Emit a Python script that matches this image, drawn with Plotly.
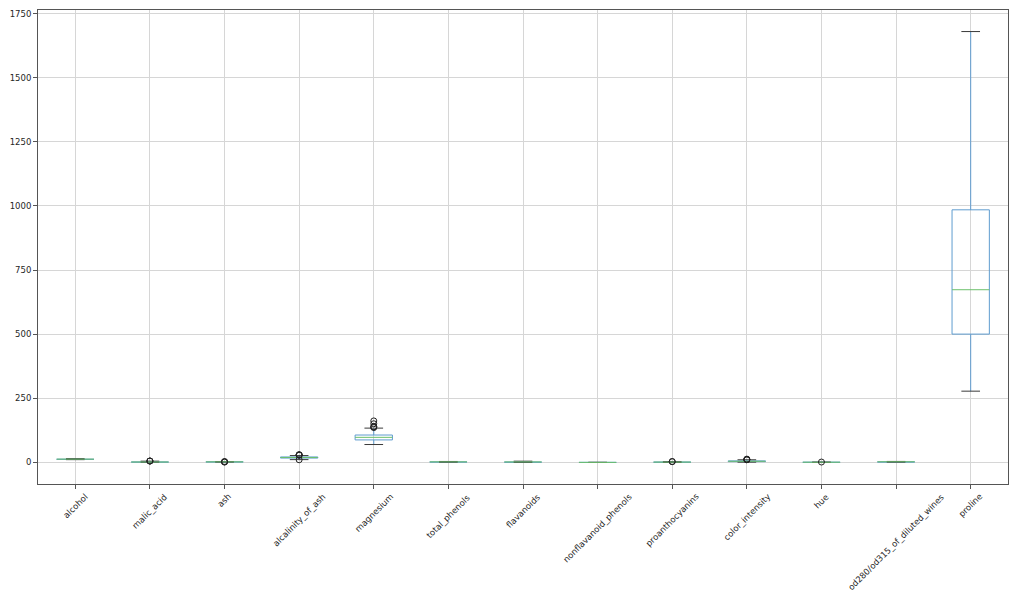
import plotly.graph_objects as go

features = ["alcohol", "malic_acid", "ash", "alcalinity_of_ash", "magnesium",
            "total_phenols", "flavanoids", "nonflavanoid_phenols", "proanthocyanins",
            "color_intensity", "hue", "od280/od315_of_diluted_wines", "proline"]
lower_whisker = [11.03, 0.74, 1.70, 11.2, 70, 0.98, 0.34, 0.13, 0.41, 1.28, 0.48, 1.27, 278]
q1 = [12.36, 1.6025, 2.21, 17.2, 88, 1.7425, 1.205, 0.27, 1.25, 3.22, 0.7825, 1.9375, 500.5]
median = [13.05, 1.865, 2.36, 19.5, 98, 2.355, 2.135, 0.34, 1.555, 4.69, 0.965, 2.78, 673.5]
q3 = [13.68, 3.0825, 2.5575, 21.5, 107, 2.80, 2.875, 0.4375, 1.95, 6.2, 1.12, 3.17, 985]
upper_whisker = [14.83, 5.19, 2.92, 27.0, 134, 3.88, 5.08, 0.66, 2.96, 10.52, 1.45, 4.0, 1680]
outliers = {
    "malic_acid": [5.80, 5.51, 5.65],
    "ash": [1.36, 3.22, 3.23],
    "alcalinity_of_ash": [10.6, 30.0, 28.5, 28.5, 30.0],
    "magnesium": [151, 139, 136, 162, 139],
    "proanthocyanins": [3.28, 3.58],
    "color_intensity": [10.8, 13.0, 11.75, 10.68],
    "hue": [1.71],
}

BLUE = "#5f9ccf"
GREEN = "#6cc06c"
CAP = "#3a3a3a"
half_box = 0.25
half_cap = 0.125
FONT = dict(family="DejaVu Sans", size=8.5, color="#262626")

bx, by, wx, wy, cx, cy, mx, my = [], [], [], [], [], [], [], []
for i, name in enumerate(features):
    p = i + 1
    bx += [p - half_box, p + half_box, p + half_box, p - half_box, p - half_box, None]
    by += [q1[i], q1[i], q3[i], q3[i], q1[i], None]
    wx += [p, p, None, p, p, None]
    wy += [q1[i], lower_whisker[i], None, q3[i], upper_whisker[i], None]
    cx += [p - half_cap, p + half_cap, None, p - half_cap, p + half_cap, None]
    cy += [lower_whisker[i], lower_whisker[i], None, upper_whisker[i], upper_whisker[i], None]
    mx += [p - half_box, p + half_box, None]
    my += [median[i], median[i], None]

fx, fy = [], []
for name, vals in outliers.items():
    p = features.index(name) + 1
    fx += [p] * len(vals)
    fy += vals

fig = go.Figure()
fig.add_trace(go.Scatter(x=bx, y=by, mode="lines", line=dict(color=BLUE, width=1), hoverinfo="skip"))
fig.add_trace(go.Scatter(x=wx, y=wy, mode="lines", line=dict(color=BLUE, width=1), hoverinfo="skip"))
fig.add_trace(go.Scatter(x=cx, y=cy, mode="lines", line=dict(color=CAP, width=1), hoverinfo="skip"))
fig.add_trace(go.Scatter(x=mx, y=my, mode="lines", line=dict(color=GREEN, width=1), hoverinfo="skip"))
fig.add_trace(go.Scatter(x=fx, y=fy, mode="markers",
                         marker=dict(symbol="circle-open", color="#222222", size=6, line=dict(width=1))))

for i, name in enumerate(features):
    fig.add_annotation(x=i + 1, y=-0.01, xref="x", yref="paper", text=name, showarrow=False,
                       textangle=-45, xanchor="center", yanchor="top", font=FONT)

fig.update_layout(
    width=1016, height=588,
    margin=dict(l=30, r=16, t=2, b=112, autoexpand=False),
    paper_bgcolor="white", plot_bgcolor="white",
    showlegend=False,
    font=FONT,
)
fig.update_xaxes(range=[0.5, 13.5], tickvals=list(range(1, 14)), ticktext=[""] * 13,
                 automargin=False,
                 showgrid=True, gridcolor="#d6d6d6", gridwidth=1,
                 showline=True, linecolor="#555555", linewidth=1, mirror=True,
                 ticks="outside", ticklen=4, tickcolor="#555555", zeroline=False)
fig.update_yaxes(range=[-83.9, 1764], tickvals=[0, 250, 500, 750, 1000, 1250, 1500, 1750],
                 automargin=False,
                 showgrid=True, gridcolor="#d6d6d6", gridwidth=1,
                 showline=True, linecolor="#555555", linewidth=1, mirror=True,
                 ticks="outside", ticklen=4, tickcolor="#555555", zeroline=False)

fig.write_html("out.html")
